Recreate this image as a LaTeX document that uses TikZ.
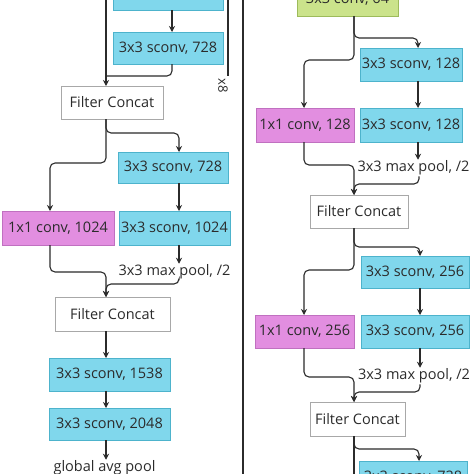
\documentclass[tikz,border=0pt]{standalone}
\usepackage{fontspec}
\setmainfont{Open Sans}
\usetikzlibrary{arrows.meta,calc}
\definecolor{cyfill}{HTML}{80D7EC}
\definecolor{cydraw}{HTML}{4DB3CC}
\definecolor{pkfill}{HTML}{E28EE0}
\definecolor{pkdraw}{HTML}{C070C0}
\definecolor{grfill}{HTML}{CBE38B}
\definecolor{grdraw}{HTML}{9DBB5B}
\definecolor{ink}{HTML}{2B2B2B}
\definecolor{fcdraw}{HTML}{A8A8A8}
\begin{document}
\begin{tikzpicture}[x=1pt,y=-1pt,
 box/.style={draw, line width=0.9pt, inner sep=0pt, outer sep=0pt, font=\fontsize{14.5}{16}\selectfont, text=ink},
 cy/.style={box, fill=cyfill, draw=cydraw},
 pk/.style={box, fill=pkfill, draw=pkdraw},
 gr/.style={box, fill=grfill, draw=grdraw},
 fc/.style={box, fill=white, draw=fcdraw},
 lbl/.style={inner sep=1pt, outer sep=0pt, font=\fontsize{14.5}{16}\selectfont, text=ink},
 ln/.style={draw=ink, line width=1.1pt, rounded corners=5pt},
 arr/.style={ln, -{Stealth[length=6pt,width=6pt]}},
]
\useasboundingbox (0,0) rectangle (474,474);
\clip (0,0) rectangle (474,474);
\fill[white] (0,0) rectangle (474,474);

% column coordinates
\coordinate (cT) at (172,0);
\coordinate (cA) at (106,0);
\coordinate (cB) at (179,0);
\coordinate (cC) at (50,0);
\coordinate (Rtop) at (228,0);
\coordinate (Rbot) at (228,76);
\coordinate (jA) at (106,76);
\coordinate (cD) at (354,0);
\coordinate (cE) at (418,0);
\coordinate (cF) at (304,0);
\coordinate (cG) at (420,0);
\coordinate (cH) at (419,0);
\coordinate (Dtop) at (243,0);
\coordinate (Dbot) at (243,474);
\coordinate (Dend) at (354,480);

% ---------- left panel ----------
\node[cy, minimum width=110, minimum height=32] (top0) at (168,-6) {};
\node[cy, minimum width=110, minimum height=32] (m1) at (168,48) {3x3 sconv, 728};
\node[fc, minimum width=102, minimum height=33] (fc1) at (112,102.5) {Filter Concat};
\node[cy, minimum width=110, minimum height=31] (c728) at (173,167.5) {3x3 sconv, 728};
\node[pk, minimum width=112, minimum height=34] (p1024) at (58,228) {1x1 conv, 1024};
\node[cy, minimum width=111, minimum height=34] (c1024) at (174.5,228) {3x3 sconv, 1024};
\node[lbl] (mp1) at (174.5,272) {3x3 max pool, /2};
\node[fc, minimum width=115, minimum height=34] (fc2) at (112.5,314) {Filter Concat};
\node[cy, minimum width=121, minimum height=33] (c1538) at (109.5,374.5) {3x3 sconv, 1538};
\node[cy, minimum width=121, minimum height=32] (c2048) at (109.5,424) {3x3 sconv, 2048};
\node[lbl] (gap) at (104.5,468) {global avg pool};
\node[lbl, rotate=-90, font=\fontsize{13}{15}\selectfont] (x8) at (223,86) {x8};

\draw[ln] (Rtop) -- (Rbot);
\draw[arr] (cA) -- (fc1.north -| cA);
\draw[arr] (top0.south -| cT) -- (m1.north -| cT);
\draw[ln] (m1.south -| cT) |- (jA);
\draw[arr] (fc1.south -| cA) -- (106,133) -| (c728.north -| cB);
\draw[arr] (fc1.south -| cA) -- (106,163) -| (p1024.north -| cC);
\draw[arr] (c728.south -| cB) -- (c1024.north -| cB);
\draw[arr] (c1024.south -| cB) -- (mp1.north -| cB);
\draw[arr] (mp1.south -| cB) -- (179,284) -| (fc2.north -| cA);
\draw[arr] (p1024.south -| cC) -- (50,272) -| (fc2.north -| cA);
\draw[arr] (fc2.south -| cA) -- (c1538.north -| cA);
\draw[arr] (c1538.south -| cA) -- (c2048.north -| cA);
\draw[arr] (c2048.south -| cA) -- (gap.north -| cA);

% ---------- divider ----------
\draw[draw=ink, line width=1.1pt] (Dtop) -- (Dbot);

% ---------- right panel ----------
\node[gr, minimum width=101, minimum height=33] (g64) at (347.5,-0.5) {3x3 conv, 64};
\node[cy, minimum width=102, minimum height=33] (r128a) at (411,64.5) {3x3 sconv, 128};
\node[pk, minimum width=98, minimum height=34] (p128) at (305,125) {1x1 conv, 128};
\node[cy, minimum width=102, minimum height=34] (r128b) at (411,125) {3x3 sconv, 128};
\node[lbl] (mp2) at (413.5,168) {3x3 max pool, /2};
\node[fc, minimum width=98, minimum height=33] (fcr1) at (359,211.5) {Filter Concat};
\node[cy, minimum width=108, minimum height=32] (r256a) at (415,272) {3x3 sconv, 256};
\node[pk, minimum width=99, minimum height=33] (p256) at (304.5,331.5) {1x1 conv, 256};
\node[cy, minimum width=108, minimum height=33] (r256b) at (415,331.5) {3x3 sconv, 256};
\node[lbl] (mp3) at (414,376) {3x3 max pool, /2};
\node[fc, minimum width=95, minimum height=34] (fcr2) at (357.5,419) {Filter Concat};
\node[cy, minimum width=108, minimum height=33] (r728) at (413,477.5) {3x3 sconv, 728};

\draw[arr] (g64.south -| cD) -- (354,38) -| (r128a.north -| cE);
\draw[arr] (g64.south -| cD) -- (354,60) -| (p128.north -| cF);
\draw[arr] (r128a.south -| cE) -- (r128b.north -| cE);
\draw[arr] (r128b.south -| cE) -- (mp2.north -| cE);
\draw[arr] (mp2.south -| cH) -- (419,184) -| (fcr1.north -| cD);
\draw[arr] (p128.south -| cF) -- (304,165) -| (fcr1.north -| cD);
\draw[arr] (fcr1.south -| cD) -- (354,247) -| (r256a.north -| cG);
\draw[arr] (fcr1.south -| cD) -- (354,270) -| (p256.north -| cF);
\draw[arr] (r256a.south -| cG) -- (r256b.north -| cG);
\draw[arr] (r256b.south -| cG) -- (mp3.north -| cG);
\draw[arr] (mp3.south -| cG) -- (420,392) -| (fcr2.north -| cD);
\draw[arr] (p256.south -| cF) -- (304,377) -| (fcr2.north -| cD);
\draw[arr] (fcr2.south -| cD) -- (354,449) -| (r728.north -| cH);
\draw[ln] (fcr2.south -| cD) -- (Dend);
\end{tikzpicture}
\end{document}
